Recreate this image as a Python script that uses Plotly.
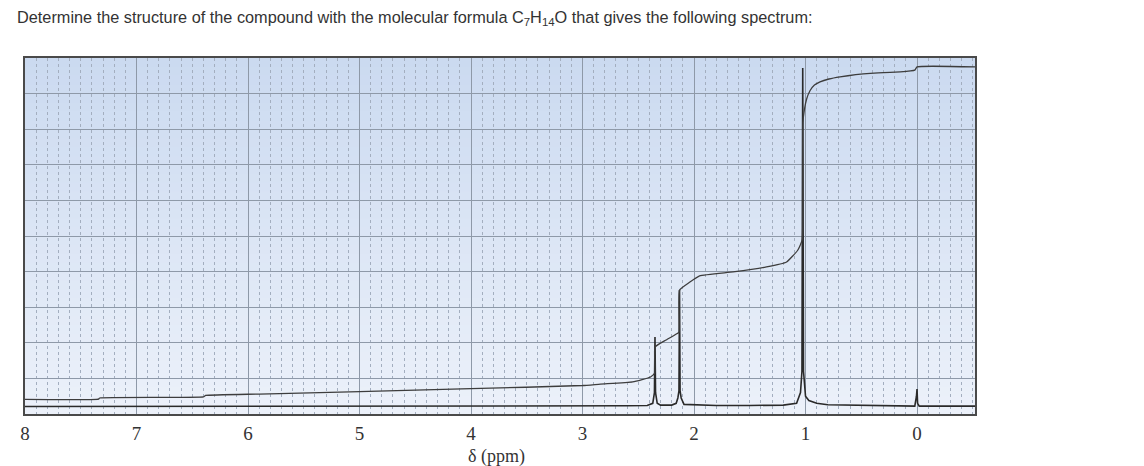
import plotly.graph_objects as go

# Spectrum trace (ppm, intensity in chart-grid units)
spec_ppm = [8.0, 7.0, 6.0, 5.0, 4.0, 3.0, 2.6, 2.42, 2.37, 2.355, 2.35, 2.345, 2.33, 2.30,
            2.20, 2.16, 2.145, 2.135, 2.13, 2.125, 2.115, 2.09, 1.8, 1.5, 1.2, 1.08, 1.045,
            1.032, 1.025, 1.018, 1.0, 0.97, 0.9, 0.8, 0.5, 0.02, 0.005, 0.0, -0.005, -0.02, -0.52]
spec_int = [0.21, 0.21, 0.21, 0.22, 0.22, 0.22, 0.23, 0.24, 0.30, 0.60, 2.16, 0.60, 0.30, 0.25,
            0.25, 0.30, 0.45, 0.65, 3.48, 0.65, 0.45, 0.27, 0.24, 0.24, 0.25, 0.30, 0.60,
            1.20, 9.72, 1.20, 0.50, 0.38, 0.30, 0.26, 0.24, 0.22, 0.50, 0.70, 0.30, 0.22, 0.22]

# Integration curve
int_ppm = [8.0, 7.34, 7.33, 6.40, 6.38, 5.9, 5.0, 4.0, 3.0, 2.84, 2.55, 2.39, 2.352, 2.35,
           2.25, 2.15, 2.135, 2.13, 2.04, 1.95, 1.65, 1.35, 1.17, 1.07, 1.03, 1.024,
           1.01, 0.99, 0.96, 0.92, 0.87, 0.79, 0.69, 0.55, 0.42, 0.15, 0.02, 0.0, -0.52]
int_val = [0.41, 0.42, 0.45, 0.48, 0.52, 0.56, 0.63, 0.71, 0.80, 0.84, 0.90, 1.04, 1.15, 1.88,
           2.08, 2.26, 2.30, 3.48, 3.70, 3.88, 3.99, 4.13, 4.27, 4.60, 4.89, 8.17,
           8.55, 8.85, 9.08, 9.24, 9.33, 9.41, 9.47, 9.53, 9.57, 9.61, 9.66, 9.75, 9.75]

tick_vals = [8, 7, 6, 5, 4, 3, 2, 1, 0]
tick_text = ["8", "7", "6", "5", "4", "3", "2", "1", "0"]

fig = go.Figure()
fig.add_trace(go.Scatter(x=spec_ppm, y=spec_int, mode="lines",
                         line=dict(color="#2a2a2a", width=1.6), hoverinfo="skip"))
fig.add_trace(go.Scatter(x=int_ppm, y=int_val, mode="lines", line_shape="spline",
                         line=dict(color="#3d3d3d", width=1.3, smoothing=0.4), hoverinfo="skip"))

# vertical gradient background
n = 40
top = (203, 218, 240)
bot = (236, 241, 250)
shapes = []
for i in range(n):
    t = i / (n - 1)
    c = tuple(round(bot[k] + (top[k] - bot[k]) * t) for k in range(3))
    shapes.append(dict(type="rect", xref="paper", yref="paper", x0=0, x1=1,
                       y0=i / n, y1=(i + 1) / n + 0.002, layer="below",
                       line=dict(width=0), fillcolor="rgb(%d,%d,%d)" % c))

fig.update_layout(
    width=1144, height=466,
    margin=dict(l=25, r=169, t=58, b=52),
    paper_bgcolor="white", plot_bgcolor="rgba(0,0,0,0)",
    showlegend=False, shapes=shapes,
    xaxis=dict(range=[8, -0.52], tickvals=tick_vals, ticktext=tick_text,
               showgrid=True, gridcolor="#8e99a8", gridwidth=1,
               minor=dict(dtick=0.1, tick0=0, showgrid=True, gridcolor="#a3aebf",
                          griddash="3px,3px", gridwidth=1),
               zeroline=False, showline=True, linecolor="#4a4a4a", linewidth=2, mirror=True,
               ticks="outside", ticklen=1, tickcolor="rgba(0,0,0,0)",
               tickfont=dict(family="Liberation Serif, Times New Roman, serif", size=19, color="#333")),
    yaxis=dict(range=[0, 10], dtick=1, tick0=0, showticklabels=False,
               showgrid=True, gridcolor="#8e99a8", gridwidth=1, zeroline=False,
               showline=True, linecolor="#4a4a4a", linewidth=2, mirror=True),
    annotations=[
        dict(text="Determine the structure of the compound with the molecular formula C<sub>7</sub>H<sub>14</sub>O that gives the following spectrum:",
             xref="paper", yref="paper", x=-0.0105, y=1.112, xanchor="left", yanchor="middle",
             showarrow=False, font=dict(family="Liberation Sans, Arial, sans-serif", size=16.3, color="#333")),
        dict(text="δ (ppm)", xref="paper", yref="paper", x=0.496, y=-0.118,
             xanchor="center", yanchor="middle", showarrow=False,
             font=dict(family="Liberation Serif, Times New Roman, serif", size=18, color="#333")),
    ],
)

fig.write_html("out.html")
